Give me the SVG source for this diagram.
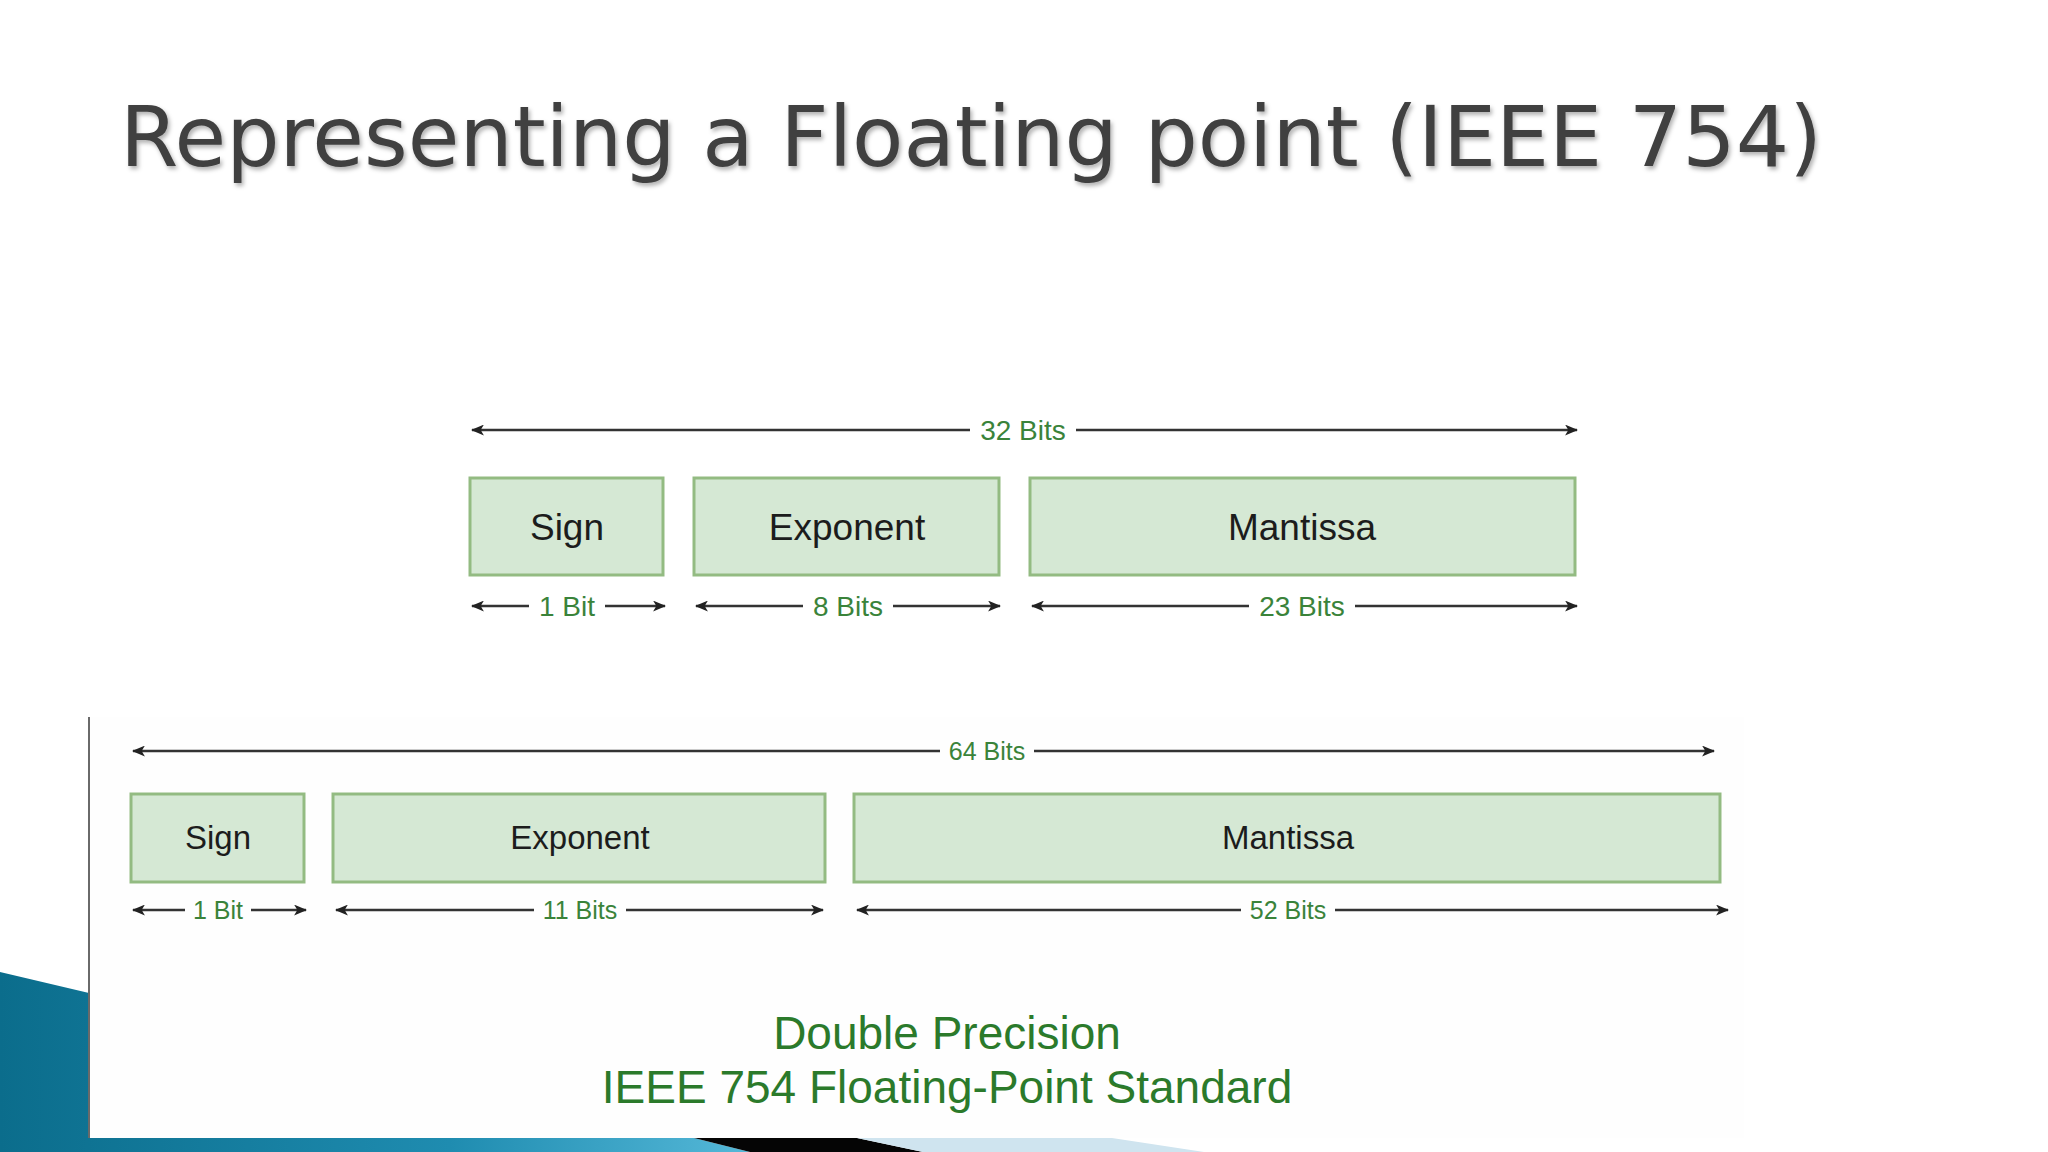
<svg xmlns="http://www.w3.org/2000/svg" width="2048" height="1152" viewBox="0 0 2048 1152">
  <defs>
    <style>
      .box { fill: #d5e8d4; stroke: #93bb82; stroke-width: 3; }
      .lbl { font-family: "Liberation Sans", Arial, sans-serif; fill: #1c1c1c; text-anchor: middle; }
      .bit { font-family: "Liberation Sans", Arial, sans-serif; fill: #3a833a; text-anchor: middle; }
      .cap { font-family: "Liberation Sans", Arial, sans-serif; fill: #2b7a2b; text-anchor: middle; font-size: 46px; }
      .dim { stroke: #333333; stroke-width: 2.5; fill: none; }
      .title { font-family: "DejaVu Sans", Verdana, sans-serif; font-size: 84px; fill: #404040; }
    </style>
    <marker id="ah" viewBox="0 0 12 10" refX="11" refY="5" markerUnits="userSpaceOnUse" markerWidth="13" markerHeight="11" orient="auto-start-reverse">
      <path d="M0,0 L12,5 L0,10 L3,5 Z" fill="#222222"/>
    </marker>
    <linearGradient id="teal" x1="0" y1="0" x2="1" y2="0">
      <stop offset="0" stop-color="#0b6d8c"/>
      <stop offset="0.6" stop-color="#1f8cb0"/>
      <stop offset="1" stop-color="#55b8d8"/>
    </linearGradient>
    <filter id="shadow" x="-5%" y="-20%" width="110%" height="150%">
      <feDropShadow dx="2" dy="3" stdDeviation="2" flood-color="#000000" flood-opacity="0.3"/>
    </filter>
  </defs>

  <rect x="0" y="0" width="2048" height="1152" fill="#ffffff"/>

  <!-- background decoration -->
  <g id="decoration">
    <polygon points="0,972 89,993 89,1138 694,1138 750,1152 0,1152" fill="url(#teal)"/>
    <polygon points="694,1138 857,1138 923,1152 750,1152" fill="#050505"/>
    <polygon points="857,1138 1112,1138 1204,1152 923,1152" fill="#cfe4ef"/>
    <rect x="89" y="717" width="1655" height="421" fill="#fefefe"/>
    <line x1="89" y1="717" x2="89" y2="1138" stroke="#6a6a6a" stroke-width="2"/>
  </g>

  <g id="title">
    <text class="title" x="120" y="166" filter="url(#shadow)">Representing a Floating point (IEEE 754)</text>
  </g>

  <!-- Single precision (32-bit) -->
  <g id="sp-sign"><rect class="box" x="470" y="478" width="193" height="97"/><text class="lbl" x="567" y="540" font-size="37">Sign</text></g>
  <g id="sp-exponent"><rect class="box" x="694" y="478" width="305" height="97"/><text class="lbl" x="847" y="540" font-size="37">Exponent</text></g>
  <g id="sp-mantissa"><rect class="box" x="1030" y="478" width="545" height="97"/><text class="lbl" x="1302" y="540" font-size="37">Mantissa</text></g>

  <!-- Double precision (64-bit) -->
  <g id="dp-sign"><rect class="box" x="131" y="794" width="173" height="88"/><text class="lbl" x="218" y="849" font-size="33">Sign</text></g>
  <g id="dp-exponent"><rect class="box" x="333" y="794" width="492" height="88"/><text class="lbl" x="580" y="849" font-size="33">Exponent</text></g>
  <g id="dp-mantissa"><rect class="box" x="854" y="794" width="866" height="88"/><text class="lbl" x="1288" y="849" font-size="33">Mantissa</text></g>

  <g id="connectors">
    <!-- 32 bits -->
    <line class="dim" x1="970" y1="430" x2="472" y2="430" marker-end="url(#ah)"/>
    <line class="dim" x1="1076" y1="430" x2="1577" y2="430" marker-end="url(#ah)"/>
    <!-- 1 bit -->
    <line class="dim" x1="529" y1="606" x2="472" y2="606" marker-end="url(#ah)"/>
    <line class="dim" x1="605" y1="606" x2="665" y2="606" marker-end="url(#ah)"/>
    <!-- 8 bits -->
    <line class="dim" x1="803" y1="606" x2="696" y2="606" marker-end="url(#ah)"/>
    <line class="dim" x1="893" y1="606" x2="1000" y2="606" marker-end="url(#ah)"/>
    <!-- 23 bits -->
    <line class="dim" x1="1249" y1="606" x2="1032" y2="606" marker-end="url(#ah)"/>
    <line class="dim" x1="1355" y1="606" x2="1577" y2="606" marker-end="url(#ah)"/>
    <!-- 64 bits -->
    <line class="dim" x1="940" y1="751" x2="133" y2="751" marker-end="url(#ah)"/>
    <line class="dim" x1="1034" y1="751" x2="1714" y2="751" marker-end="url(#ah)"/>
    <!-- 1 bit -->
    <line class="dim" x1="185" y1="910" x2="133" y2="910" marker-end="url(#ah)"/>
    <line class="dim" x1="251" y1="910" x2="306" y2="910" marker-end="url(#ah)"/>
    <!-- 11 bits -->
    <line class="dim" x1="534" y1="910" x2="336" y2="910" marker-end="url(#ah)"/>
    <line class="dim" x1="626" y1="910" x2="823" y2="910" marker-end="url(#ah)"/>
    <!-- 52 bits -->
    <line class="dim" x1="1241" y1="910" x2="857" y2="910" marker-end="url(#ah)"/>
    <line class="dim" x1="1335" y1="910" x2="1728" y2="910" marker-end="url(#ah)"/>
  </g>

  <g id="dimension-labels">
    <text class="bit" x="1023" y="440" font-size="28">32 Bits</text>
    <text class="bit" x="567" y="616" font-size="28">1 Bit</text>
    <text class="bit" x="848" y="616" font-size="28">8 Bits</text>
    <text class="bit" x="1302" y="616" font-size="28">23 Bits</text>
    <text class="bit" x="987" y="760" font-size="25">64 Bits</text>
    <text class="bit" x="218" y="919" font-size="25">1 Bit</text>
    <text class="bit" x="580" y="919" font-size="25">11 Bits</text>
    <text class="bit" x="1288" y="919" font-size="25">52 Bits</text>
  </g>

  <g id="caption">
    <text class="cap" x="947" y="1049">Double Precision</text>
    <text class="cap" x="947" y="1103">IEEE 754 Floating-Point Standard</text>
  </g>
</svg>
